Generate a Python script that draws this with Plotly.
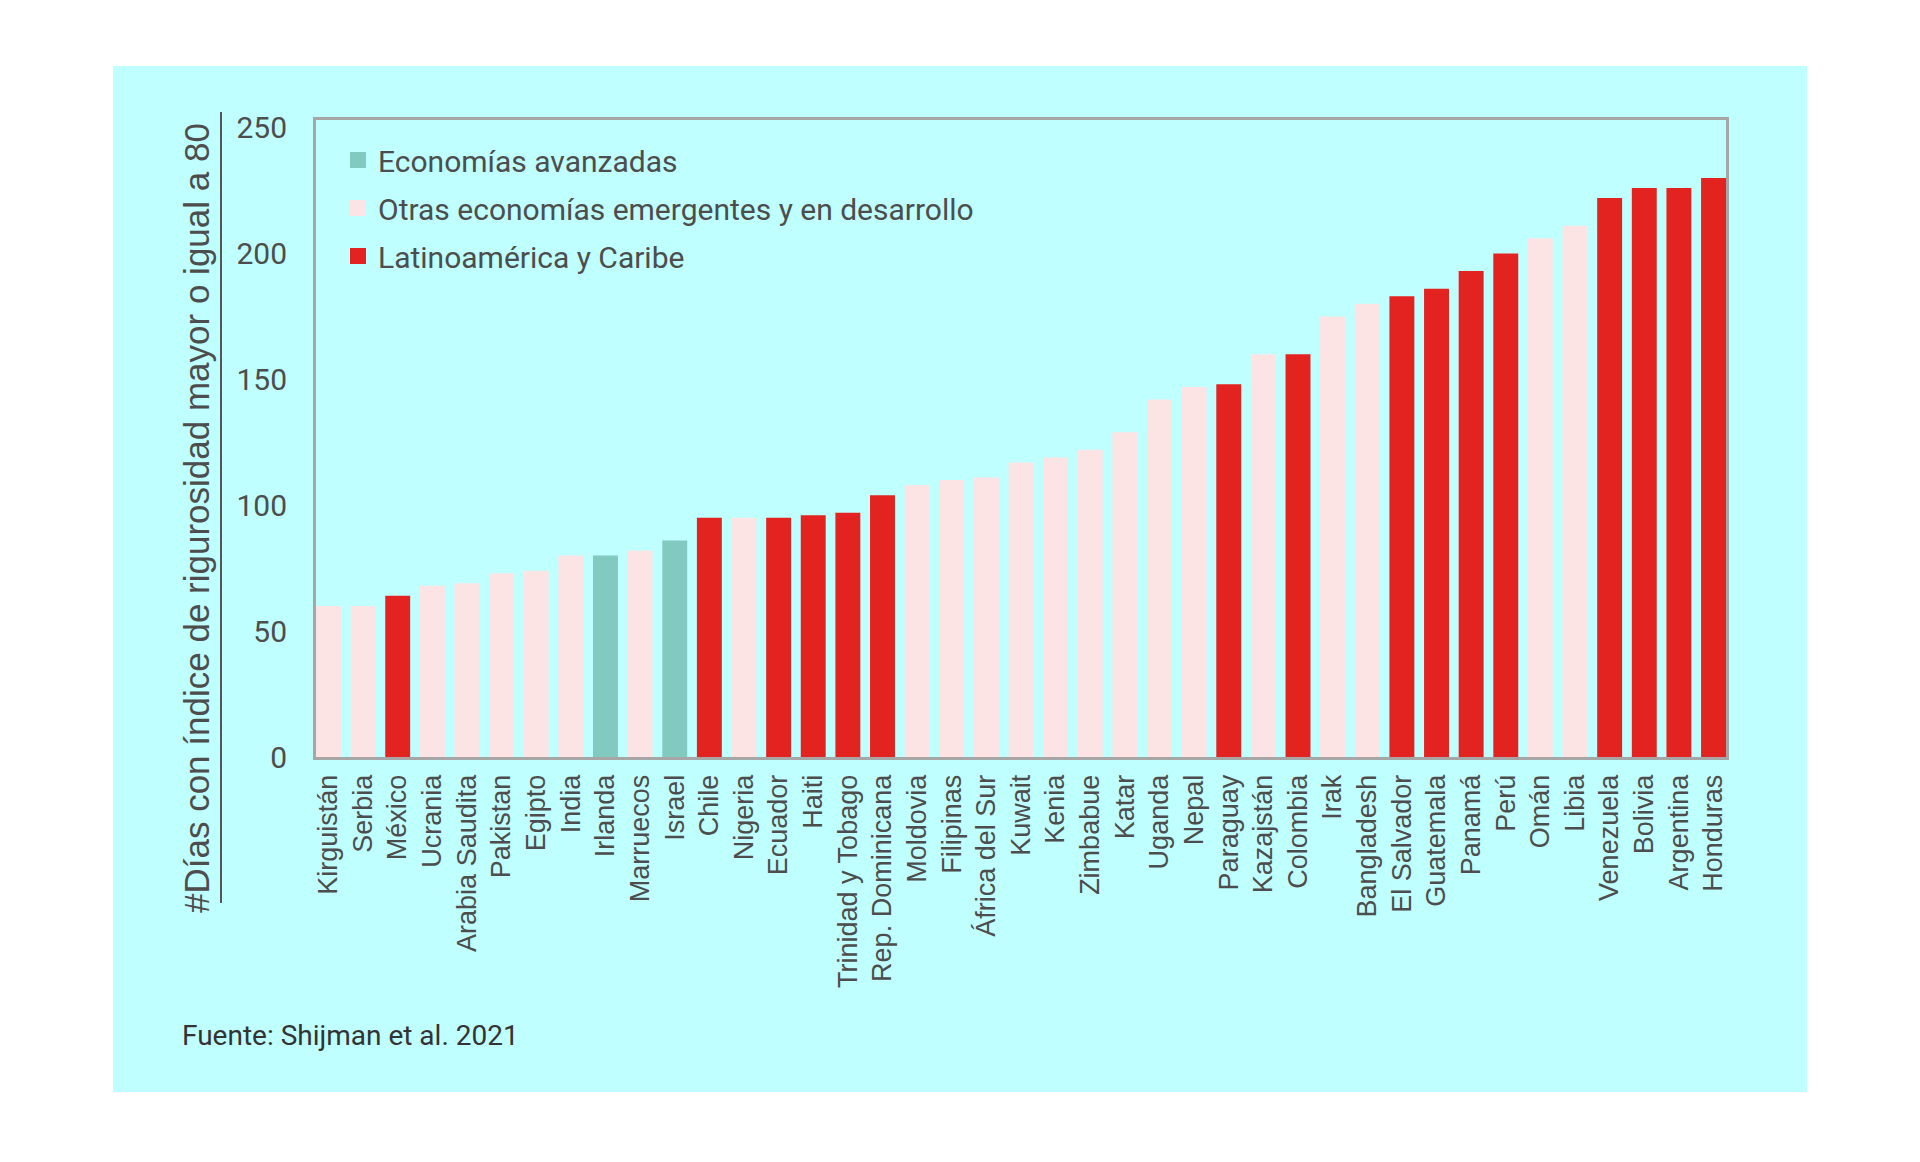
import plotly.graph_objects as go

# datos: dias con indice de rigurosidad >= 80 (Shijman et al. 2021)
paises = ['Kirguistán', 'Serbia', 'México', 'Ucrania', 'Arabia Saudita', 'Pakistan',
          'Egipto', 'India', 'Irlanda', 'Marruecos', 'Israel', 'Chile', 'Nigeria',
          'Ecuador', 'Haiti', 'Trinidad y Tobago', 'Rep. Dominicana', 'Moldovia',
          'Filipinas', 'África del Sur', 'Kuwait', 'Kenia', 'Zimbabue', 'Katar',
          'Uganda', 'Nepal', 'Paraguay', 'Kazajstán', 'Colombia', 'Irak',
          'Bangladesh', 'El Salvador', 'Guatemala', 'Panamá', 'Perú', 'Omán',
          'Libia', 'Venezuela', 'Bolivia', 'Argentina', 'Honduras']
dias = [60, 60, 64, 68, 69, 73, 74, 80, 80, 82, 86, 95, 95, 95, 96, 97, 104, 108,
        110, 111, 117, 119, 122, 129, 142, 147, 148, 160, 160, 175, 180, 183, 186,
        193, 200, 206, 211, 222, 226, 226, 230]
grupo = ['O', 'O', 'L', 'O', 'O', 'O', 'O', 'O', 'A', 'O', 'A', 'L', 'O', 'L', 'L',
         'L', 'L', 'O', 'O', 'O', 'O', 'O', 'O', 'O', 'O', 'O', 'L', 'O', 'L', 'O',
         'O', 'L', 'L', 'L', 'L', 'O', 'O', 'L', 'L', 'L', 'L']
grupos = ['A', 'O', 'L']
nombres = ['Economías avanzadas', 'Otras economías emergentes y en desarrollo',
           'Latinoamérica y Caribe']

colores = {'A': '#82C9C0', 'O': '#FDE4E4', 'L': '#E2231F'}
bg = '#BFFFFF'
txt = '#4D4D4D'

OFF = 8  # margen del body de la pagina
W, H = 1920 - OFF, 1162 - OFF
L, R, T, B = 316 - OFF, 194, 120 - OFF, 405
pw, ph = W - L - R, H - T - B


def px_x(p):
    return (p - OFF - L) / pw


def px_y(p):
    return (H - B - (p - OFF)) / ph


fig = go.Figure()
fig.add_trace(go.Bar(
    x=paises, y=dias,
    marker=dict(color=[colores[g] for g in grupo], line=dict(width=0)),
    showlegend=False, hoverinfo='x+y'
))
# entradas de leyenda
for g, n in zip(grupos, nombres):
    fig.add_trace(go.Scatter(
        x=[None], y=[None], mode='markers', name=n, legendgroup=g,
        marker=dict(symbol='square', size=20, color=colores[g])
    ))

fig.update_layout(
    width=W, height=H,
    margin=dict(l=L, r=R, t=T, b=B, pad=0),
    paper_bgcolor='white',
    plot_bgcolor=bg,
    bargap=0.28,
    legend=dict(
        x=px_x(338), y=px_y(134), xanchor='left', yanchor='top',
        bgcolor='rgba(0,0,0,0)', font=dict(family='Roboto', size=30, color=txt),
        tracegroupgap=6, itemwidth=30
    ),
    xaxis=dict(
        range=[-0.36, 40.36], showline=True, mirror=True, linecolor='#A6A6A6',
        linewidth=3, showgrid=False, zeroline=False, tickangle=-90,
        ticks='outside', ticklen=4, tickcolor='rgba(0,0,0,0)',
        tickfont=dict(family='Liberation Sans', size=27, color=txt)
    ),
    yaxis=dict(
        range=[0, 253], tickvals=[0, 50, 100, 150, 200, 250],
        showline=True, mirror=True, linecolor='#A6A6A6', linewidth=3,
        showgrid=False, zeroline=False,
        ticks='outside', ticklen=20, tickcolor='rgba(0,0,0,0)',
        tickfont=dict(family='Roboto', size=30, color=txt)
    ),
    shapes=[
        dict(type='rect', xref='paper', yref='paper', layer='below',
             x0=px_x(113), x1=px_x(1807), y0=px_y(1092), y1=px_y(66),
             fillcolor=bg, line=dict(width=0)),
        dict(type='line', xref='paper', yref='paper',
             x0=px_x(221), x1=px_x(221), y0=px_y(903), y1=px_y(112),
             line=dict(color='#555555', width=2)),
    ],
    annotations=[
        dict(text='#Días con índice de rigurosidad mayor o igual a 80',
             xref='paper', yref='paper', x=px_x(196), y=px_y(518),
             textangle=-90, showarrow=False, xanchor='center', yanchor='middle',
             font=dict(family='Liberation Sans', size=35, color=txt)),
        dict(text='Fuente: Shijman et al. 2021', xref='paper', yref='paper',
             x=px_x(180), y=px_y(1035), xanchor='left', yanchor='middle',
             showarrow=False, font=dict(family='Roboto', size=28, color='#333333')),
    ],
)

fig.write_html('out.html')
